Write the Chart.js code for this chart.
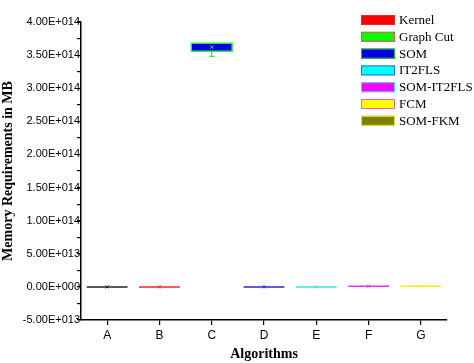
<!DOCTYPE html>
<html>
<head>
<meta charset="utf-8">
<script src="https://cdn.jsdelivr.net/npm/chart.js@4.4.1/dist/chart.umd.min.js"></script>
<style>
html,body{margin:0;padding:0;background:#fff;}
#wrap{position:relative;width:474px;height:363px;}
</style>
</head>
<body>
<div id="wrap"><canvas id="c"></canvas></div>
<script>
// ---- data ----
const categories = ['A','B','C','D','E','F','G'];
const q1Values   = [0, 0, 3.56e14, 0, 0, 1e12, 1e12];
const q3Values   = [0, 0, 3.68e14, 0, 0, 1e12, 1e12];
const meanValues = [0, 0, 3.62e14, 0, 0, 1e12, 1e12];
const whiskerLow = [0, 0, 3.48e14, 0, 0, 1e12, 1e12];
const whiskerHigh= [0, 0, 3.68e14, 0, 0, 1e12, 1e12];
const yTickValues = [-5e13, 0, 5e13, 1e14, 1.5e14, 2e14, 2.5e14, 3e14, 3.5e14, 4e14];
const legendNames = ['Kernel','Graph Cut','SOM','IT2FLS','SOM-IT2FLS','FCM','SOM-FKM'];

// ---- styles ----
const lineColors = ['#222222','#e52b2b','#33ee33','#2b2bcc','#3ce3e3','#f02af0','#eeee22'];
const boxFills   = [null, null, '#0000e6', null, null, null, null];
const legendFill   = ['#ff0000','#00ff00','#0000e0','#00ffff','#ff00ff','#ffff00','#808000'];
const legendBorder = ['#ff2020','#f05050','#20c020','#4060ff','#40e0ff','#ff60a0','#e8e840'];

function fmtE(v){
  if (Math.abs(v) < 1) return '0.00E+000';
  const exp = Math.floor(Math.log10(Math.abs(v)) + 1e-9);
  const mant = v / Math.pow(10, exp);
  return mant.toFixed(2) + 'E' + (exp >= 0 ? '+' : '-') + String(Math.abs(exp)).padStart(3,'0');
}

const HW = 0.39, CAP = 0.05;
const datasets = [];
// mean markers (on top)
categories.forEach((c,i)=>{
  datasets.push({
    data:[{x:i,y:meanValues[i]}], showLine:false,
    pointStyle:'crossRot', pointRadius:2.2, pointBorderWidth:1,
    borderColor:lineColors[i], backgroundColor:lineColors[i], order:0
  });
});
// boxes
categories.forEach((c,i)=>{
  const hasFill = !!boxFills[i];
  datasets.push({
    data:[{x:i-HW,y:q1Values[i]},{x:i+HW,y:q1Values[i]},{x:i+HW,y:q3Values[i]},{x:i-HW,y:q3Values[i]},{x:i-HW,y:q1Values[i]}],
    borderColor:lineColors[i], backgroundColor: hasFill ? boxFills[i] : 'transparent',
    fill: hasFill ? 'shape' : false, borderWidth:1.5, pointRadius:0, tension:0, order:2
  });
});
// whiskers
categories.forEach((c,i)=>{
  if (whiskerLow[i] === q1Values[i] && whiskerHigh[i] === q3Values[i]) return;
  datasets.push({
    data:[
      {x:i,y:q1Values[i]},{x:i,y:whiskerLow[i]},{x:i-CAP,y:whiskerLow[i]},{x:i+CAP,y:whiskerLow[i]}
    ],
    borderColor:lineColors[i], borderWidth:1.2, pointRadius:0, tension:0, fill:false, order:1
  });
});

const legendPlugin = {
  id:'customLegend',
  afterDraw(chart){
    const ctx = chart.ctx;
    ctx.save();
    ctx.font = '13px "Liberation Serif", "Times New Roman", serif';
    ctx.textBaseline = 'middle';
    legendNames.forEach((n,i)=>{
      const y = 15 + i*16.8;
      ctx.fillStyle = legendFill[i];
      ctx.fillRect(361, y, 34, 10);
      ctx.strokeStyle = legendBorder[i];
      ctx.lineWidth = 1;
      ctx.strokeRect(361.5, y+0.5, 33, 9);
      ctx.fillStyle = '#000';
      ctx.fillText(n, 399, y+5.5);
    });
    ctx.restore();
  }
};

new Chart(document.getElementById('c'), {
  type:'line',
  data:{datasets},
  options:{
    responsive:true, maintainAspectRatio:false, animation:false,
    layout:{padding:{top:22,right:27,left:0,bottom:0}},
    plugins:{legend:{display:false}, tooltip:{enabled:false}},
    scales:{
      x:{
        type:'linear', min:-0.5, max:6.5,
        afterBuildTicks(s){ s.ticks = categories.map((c,i)=>({value:i})); },
        afterFit(s){ s.height = 43; },
        ticks:{
          callback:(v)=>categories[Math.round(v)] ?? '',
          color:'#000', font:{family:'"Liberation Sans", Arial, sans-serif', size:12}, padding:3, maxRotation:0
        },
        grid:{display:true, drawOnChartArea:false, drawTicks:true, tickLength:5, color:'#000', lineWidth:1.2},
        border:{display:true, color:'#000', width:1.5},
        title:{display:true, text:'Algorithms', color:'#000',
          font:{family:'"Liberation Serif", "Times New Roman", serif', size:14, weight:'bold'}, padding:{top:5,bottom:0}}
      },
      y:{
        min:-5e13, max:4e14,
        afterBuildTicks(s){
          const t=[];
          for (let k=0;k<yTickValues.length;k++){
            t.push({value:yTickValues[k]});
            if (k<yTickValues.length-1) t.push({value:(yTickValues[k]+yTickValues[k+1])/2, minor:true});
          }
          s.ticks=t;
        },
        afterFit(s){ s.width = 81; },
        ticks:{
          callback:(v)=> yTickValues.some(t=>Math.abs(t-v)<1e6) ? fmtE(v) : '',
          color:'#000', font:{family:'"Liberation Sans", Arial, sans-serif', size:11}, padding:-3, autoSkip:false
        },
        grid:{display:true, drawOnChartArea:false, drawTicks:true, tickLength:4, color:'#000', lineWidth:1.2},
        border:{display:true, color:'#000', width:1.5},
        title:{display:true, text:'Memory Requirements in MB', color:'#000',
          font:{family:'"Liberation Serif", "Times New Roman", serif', size:14, weight:'bold'}, padding:{top:0,bottom:0}}
      }
    }
  },
  plugins:[legendPlugin]
});
</script>
</body>
</html>
